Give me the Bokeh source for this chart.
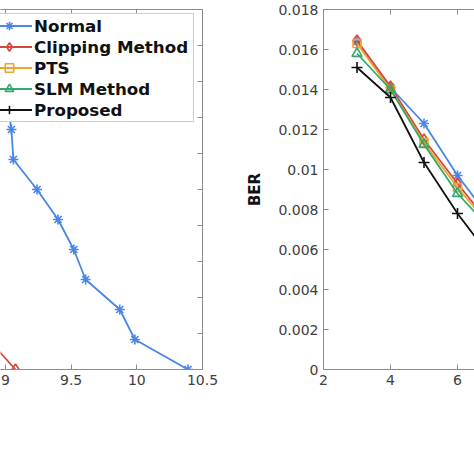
from bokeh.plotting import figure
from bokeh.layouts import row
from bokeh.models import LinearAxis, FixedTicker, Legend, LegendItem, Range1d, ColumnDataSource
from bokeh.embed import file_html
from bokeh.resources import INLINE

# ---- series metadata ----
series_names = ["Normal", "Clipping Method", "PTS", "SLM Method", "Proposed"]
series_colors = ["#4a86e8", "#d4493f", "#eea62a", "#35a86a", "#111111"]
series_markers = ["asterisk", "diamond", "square", "triangle", "cross"]
marker_sizes = [10, 11, 8, 10, 11]

# ---- left panel data (PAPR in dB vs level index) ----
left_level_normal = [0, 1, 2, 3, 4, 5, 6, 7, 8, 9, 10]
left_papr_normal = [10.39, 9.985, 9.87, 9.61, 9.52, 9.40, 9.24, 9.06, 9.045, 9.01, 8.96]
left_level_clip = [0, 1, 2]
left_papr_clip = [9.076, 8.871, 8.70]
# the remaining curves lie outside the shown x window; they only appear in the legend
left_level_other = [float("nan")]
left_papr_other = [float("nan")]

left_x_ticks = [9, 9.5, 10, 10.5]
left_x_labels = ["9", "9.5", "10", "10.5"]
left_y_ticks = [0, 1.2, 2.4, 3.6, 4.8, 6.0, 7.2, 8.4, 9.6, 10.8, 12.0]

# ---- right panel data (BER vs SNR) ----
snr = [3, 4, 5, 6, 7]
ber_normal = [0.0164, 0.0141, 0.0123, 0.0097, 0.0075]
ber_clip = [0.01645, 0.01415, 0.0115, 0.0093, 0.0072]
ber_pts = [0.0163, 0.0140, 0.01135, 0.0091, 0.0071]
ber_slm = [0.0158, 0.0140, 0.01125, 0.0088, 0.0070]
ber_prop = [0.0151, 0.0136, 0.01035, 0.0078, 0.0056]

right_x_ticks = [2, 4, 6]
right_x_labels = ["2", "4", "6"]
right_y_ticks = [0, 0.002, 0.004, 0.006, 0.008, 0.01, 0.012, 0.014, 0.016, 0.018]
right_y_labels = ["0", "0.002", "0.004", "0.006", "0.008", "0.01", "0.012", "0.014", "0.016", "0.018"]

AXIS_COLOR = "#8c8c8c"
LABEL_COLOR = "#404040"
FONT = "DejaVu Sans"


def style_axis(ax, ticks, labels=None):
    ax.ticker = FixedTicker(ticks=ticks)
    ax.major_tick_in = 5
    ax.major_tick_out = 0
    ax.minor_tick_line_color = None
    ax.axis_line_color = AXIS_COLOR
    ax.major_tick_line_color = AXIS_COLOR
    ax.major_label_text_font = FONT
    ax.major_label_text_color = LABEL_COLOR
    if labels is None:
        # mirrored tick axis: ticks only, labels not painted
        ax.major_label_text_font_size = "1px"
        ax.major_label_text_color = None
        ax.major_label_standoff = 0
    else:
        ax.major_label_text_font_size = "14px"
        ax.major_label_standoff = 5
        ax.major_label_overrides = {t: s for t, s in zip(ticks, labels)}


def base_figure(width, xr, yr, border_left, border_right):
    p = figure(width=width, height=474, x_range=xr, y_range=yr,
               min_border_left=border_left, min_border_right=border_right,
               min_border_top=9, min_border_bottom=105,
               x_axis_location=None, y_axis_location=None,
               toolbar_location=None, output_backend="svg")
    p.grid.visible = False
    p.outline_line_color = None
    p.background_fill_color = "white"
    p.border_fill_color = "white"
    return p


def draw_series(p, xs, ys, i):
    src = ColumnDataSource(dict(x=xs, y=ys))
    ln = p.line("x", "y", source=src, line_color=series_colors[i], line_width=1.8)
    sc = p.scatter("x", "y", source=src, marker=series_markers[i], size=marker_sizes[i],
                   line_color=series_colors[i], fill_color=None, line_width=1.6)
    return [ln, sc]


# ---- left panel ----
p1 = base_figure(225, Range1d(8.962, 10.5), Range1d(0, 12), 0, 23)
bx = LinearAxis(); style_axis(bx, left_x_ticks, left_x_labels); p1.add_layout(bx, "below")
tx = LinearAxis(); style_axis(tx, left_x_ticks); p1.add_layout(tx, "above")
ry = LinearAxis(); style_axis(ry, left_y_ticks); p1.add_layout(ry, "right")

left_data = [
    (left_papr_normal, left_level_normal),
    (left_papr_clip, left_level_clip),
    (left_papr_other, left_level_other),
    (left_papr_other, left_level_other),
    (left_papr_other, left_level_other),
]
items = []
for i, (xs, ys) in enumerate(left_data):
    rs = draw_series(p1, xs, ys, i)
    items.append(LegendItem(label=series_names[i], renderers=rs))

legend = Legend(items=items, location=(-16, 247),
                label_text_font=FONT, label_text_font_style="bold",
                label_text_font_size="16.7px", label_text_color="#111111",
                glyph_width=46, glyph_height=21, label_height=21, label_width=158,
                label_standoff=2, spacing=0, padding=1, margin=0,
                border_line_color="#9a9a9a", border_line_width=1,
                background_fill_color="white", background_fill_alpha=1.0)
p1.add_layout(legend, "center")

# ---- right panel ----
p2 = base_figure(249, Range1d(2, 6.507), Range1d(0, 0.018), 98, 0)
bx2 = LinearAxis(); style_axis(bx2, right_x_ticks, right_x_labels); p2.add_layout(bx2, "below")
tx2 = LinearAxis(); style_axis(tx2, right_x_ticks); p2.add_layout(tx2, "above")
ly2 = LinearAxis(axis_label="BER"); style_axis(ly2, right_y_ticks, right_y_labels)
ly2.axis_label_text_font = FONT
ly2.axis_label_text_font_style = "bold"
ly2.axis_label_text_font_size = "15px"
ly2.axis_label_text_color = "#111111"
ly2.axis_label_standoff = 11
p2.add_layout(ly2, "left")

for i, ys in enumerate([ber_normal, ber_clip, ber_pts, ber_slm, ber_prop]):
    draw_series(p2, snr, ys, i)

layout = row(p1, p2)
open("out.html", "w").write(file_html(layout, INLINE))
